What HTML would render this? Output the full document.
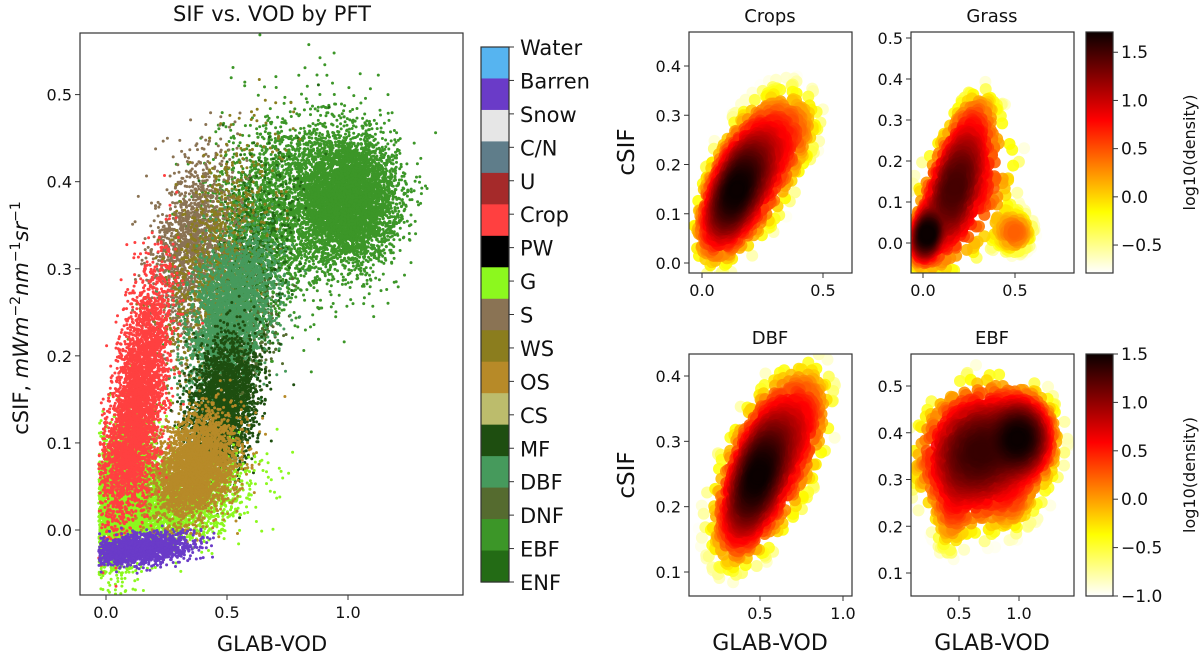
<!DOCTYPE html>
<html><head><meta charset="utf-8"><title>SIF vs VOD by PFT</title>
<style>
html,body{margin:0;padding:0;background:#fff;}
svg{display:block;font-family:"DejaVu Sans","Liberation Sans",sans-serif;}
</style></head>
<body>
<svg id="fig" width="1200" height="656" viewBox="0 0 1200 656" xmlns="http://www.w3.org/2000/svg">
<defs>
<linearGradient id="hotr" x1="0" y1="1" x2="0" y2="0">
<stop offset="0" stop-color="#ffffff"/><stop offset="0.254" stop-color="#ffff00"/>
<stop offset="0.635" stop-color="#ff0000"/><stop offset="1" stop-color="#0b0000"/>
</linearGradient>
<clipPath id="clipMain"><rect x="80" y="33" width="383" height="562"/></clipPath>
</defs>
</svg>
<script>
// ---------- main scatter data ----------
const pftNames=["Water","Barren","Snow","C/N","U","Crop","PW","G","S","WS","OS","CS","MF","DBF","DNF","EBF","ENF"];
const pftColors=["#56b4f0","#6a3bc8","#e6e6e6","#5f7d8a","#a52a2a","#ff4040","#000000","#8cf81e","#8a7354","#8b7d1e","#b78a28","#bcbc6c","#1e4e10","#469a5c","#556b2f","#3c9628","#236b15"];
const clusterPft=["EBF","EBF","ENF","DNF","S","WS","DBF","MF","G","G","OS","Crop","Crop","Barren"];
const clusterX=[1.00,0.70,0.60,0.55,0.36,0.44,0.52,0.48,0.07,0.28,0.37,0.15,0.09,0.13];
const clusterY=[0.38,0.36,0.30,0.20,0.33,0.30,0.25,0.14,0.04,0.03,0.07,0.18,0.09,-0.022];
const clusterSx=[0.10,0.15,0.10,0.08,0.08,0.12,0.09,0.07,0.06,0.15,0.085,0.06,0.06,0.11];
const clusterSy=[0.035,0.06,0.06,0.05,0.05,0.07,0.045,0.04,0.04,0.025,0.03,0.06,0.045,0.009];
const clusterRho=[0.0,0.3,0.5,0.5,0.3,0.6,0.4,0.3,0.3,0.4,0.3,0.5,0.4,0.3];
const clusterN=[5500,2500,600,500,1500,1000,2600,2600,4500,2200,3200,2400,1600,1600];
const mainXTicks=[0.0,0.5,1.0];
const mainXLabels=["0.0","0.5","1.0"];
const mainYTicks=[0.0,0.1,0.2,0.3,0.4,0.5];
const mainYLabels=["0.0","0.1","0.2","0.3","0.4","0.5"];

// ---------- density panels data ----------
const cropsCompX=[0.13,0.20,0.38,0.20], cropsCompY=[0.14,0.18,0.26,0.17], cropsCompSx=[0.06,0.09,0.07,0.12], cropsCompSy=[0.055,0.075,0.05,0.09], cropsCompRho=[0.6,0.6,0.4,0.5], cropsCompW=[1.0,0.5,0.12,0.25];
const grassCompX=[0.02,0.17,0.50,0.28,0.22], grassCompY=[0.02,0.14,0.025,0.30,0.12], grassCompSx=[0.035,0.08,0.06,0.07,0.15], grassCompSy=[0.03,0.085,0.03,0.05,0.1], grassCompRho=[0.3,0.6,0.0,0.3,0.4], grassCompW=[1.0,0.6,0.15,0.08,0.3];
const dbfCompX=[0.47,0.56,0.75,0.55], dbfCompY=[0.24,0.27,0.33,0.26], dbfCompSx=[0.09,0.14,0.09,0.2], dbfCompSy=[0.05,0.065,0.04,0.08], dbfCompRho=[0.6,0.6,0.4,0.5], dbfCompW=[1.0,0.5,0.12,0.25];
const ebfCompX=[1.02,0.65,0.45,0.95,0.75], ebfCompY=[0.39,0.36,0.24,0.25,0.35], ebfCompSx=[0.12,0.22,0.08,0.08,0.3], ebfCompSy=[0.04,0.06,0.06,0.03,0.09], ebfCompRho=[0.0,0.1,0.3,0.0,0.1], ebfCompW=[1.0,0.8,0.12,0.06,0.3];

const NS="http://www.w3.org/2000/svg";
const svg=document.getElementById("fig");
let seed=12345;
function rnd(){seed=(seed*1664525+1013904223)>>>0;return seed/4294967296;}
function gauss(){let u=rnd()||1e-9,v=rnd();return Math.sqrt(-2*Math.log(u))*Math.cos(2*Math.PI*v);}
function el(tag,attrs,parent){const e=document.createElementNS(NS,tag);for(const k in attrs)e.setAttribute(k,attrs[k]);(parent||svg).appendChild(e);return e;}
function txt(s,attrs,parent){const e=el("text",attrs,parent);e.textContent=s;return e;}
function lin(d0,d1,p0,p1){return v=>p0+(v-d0)*(p1-p0)/(d1-d0);}

function axes(name,box,xs,ys,xt,xl,yt,yl,fs){
  const g=el("g",{});
  
  
  const r=el("rect",{x:box.x,y:box.y,width:box.w,height:box.h,fill:"none",stroke:"#333","stroke-width":1.2},g);
  
  
  xt.forEach((t,i)=>{const px=xs(t);
    el("line",{x1:px,x2:px,y1:box.y+box.h,y2:box.y+box.h+5,stroke:"#333","stroke-width":1},g);
    const e=txt(xl[i],{x:px,y:box.y+box.h+23,"font-size":fs,"text-anchor":"middle",fill:"#111"},g);
    
    });
  yt.forEach((t,i)=>{const py=ys(t);
    el("line",{x1:box.x-5,x2:box.x,y1:py,y2:py,stroke:"#333","stroke-width":1},g);
    const e=txt(yl[i],{x:box.x-8,y:py+6,"font-size":fs,"text-anchor":"end",fill:"#111"},g);
    
    });
  return g;
}

// ---------- main scatter ----------
const mbox={x:80,y:33,w:383,h:562};
const mxs=lin(0,0.5,106,227), mys=lin(0,0.5,530,94.6);
const mg=el("g",{"clip-path":"url(#clipMain)"});


clusterPft.forEach((p,ci)=>{
  const col=pftColors[pftNames.indexOf(p)];
  const cg=el("g",{fill:col},mg);
  
  
  for(let i=0;i<clusterN[ci];i++){
    const z1=gauss(),z2=gauss();
    const x=clusterX[ci]+clusterSx[ci]*z1;
    const y=clusterY[ci]+clusterSy[ci]*(clusterRho[ci]*z1+Math.sqrt(1-clusterRho[ci]**2)*z2);
    if(x<-0.03||x>1.42) continue;
    el("circle",{cx:mxs(x).toFixed(1),cy:mys(y).toFixed(1),r:1.5},cg);
  }
});
axes("main",mbox,mxs,mys,mainXTicks,mainXLabels,mainYTicks,mainYLabels,16);
let t=txt("SIF vs. VOD by PFT",{x:272,y:21,"font-size":21,"text-anchor":"middle",fill:"#111"});

t=txt("GLAB-VOD",{x:272,y:651,"font-size":21,"text-anchor":"middle",fill:"#111"});

t=el("text",{transform:"translate(28,318) rotate(-90)","font-size":21,"text-anchor":"middle",fill:"#111"});

t.innerHTML='cSIF, <tspan font-style="italic">mWm</tspan><tspan font-size="14" dy="-8">−2</tspan><tspan font-style="italic" dy="8">nm</tspan><tspan font-size="14" dy="-8">−1</tspan><tspan font-style="italic" dy="8">sr</tspan><tspan font-size="14" dy="-8">−1</tspan>';

// categorical colorbar
const cb={x:481,y:47,w:28,h:535};
const cbg=el("g",{});

pftNames.forEach((n,i)=>{
  const seg=cb.h/pftNames.length;
  const r=el("rect",{x:cb.x,y:(cb.y+i*seg).toFixed(2),width:cb.w,height:(seg+0.6).toFixed(2),fill:pftColors[i]},cbg);
  
  
  const ty=cb.y+i*cb.h/(pftNames.length-1);
  el("line",{x1:cb.x+cb.w,x2:cb.x+cb.w+5,y1:ty,y2:ty,stroke:"#333"},cbg);
  const l=txt(n,{x:520,y:ty+8,"font-size":21,fill:"#111"},cbg);
  
  
});
el("rect",{x:cb.x,y:cb.y,width:cb.w,height:cb.h,fill:"none",stroke:"#333","stroke-width":1.2},cbg);

// ---------- density panels ----------
function hotR(v){v=Math.max(0,Math.min(1,v));const t=1-v;
  const c=x=>Math.round(255*Math.max(0,Math.min(1,x)));
  return "rgb("+c(0.0416+t/0.365)+","+c((t-0.365)/0.381)+","+c((t-0.746)/0.254)+")";}
function densityPanel(name,box,xs,ys,cx,cy,sx,sy,rho,w,n,vmin,vmax){
  const id="clip-"+name;
  const cp=el("clipPath",{id:id},svg.querySelector("defs"));
  el("rect",{x:box.x,y:box.y,width:box.w,height:box.h},cp);
  const g=el("g",{"clip-path":"url(#"+id+")"});
  
  
  const wsum=w.reduce((a,b)=>a+b,0);
  const pts=[];
  function dens(x,y){let d=0;for(let k=0;k<cx.length;k++){
    const u=(x-cx[k])/sx[k],v=(y-cy[k])/sy[k],r=rho[k];
    d+=w[k]*Math.exp(-(u*u-2*r*u*v+v*v)/(2*(1-r*r)));}return d;}
  let dmax=0;
  for(let i=0;i<n;i++){
    let a=rnd()*wsum,k=0;while(a>w[k]&&k<w.length-1){a-=w[k];k++;}
    const z1=gauss(),z2=gauss();
    const x=cx[k]+sx[k]*z1;
    const y=cy[k]+sy[k]*(rho[k]*z1+Math.sqrt(1-rho[k]**2)*z2);
    const d=dens(x,y);if(d>dmax)dmax=d;pts.push([x,y,d]);
  }
  pts.sort((a,b)=>a[2]-b[2]);
  pts.forEach(p=>{
    const val=vmax+1.45*Math.log10(p[2]/dmax);
    el("circle",{cx:xs(p[0]).toFixed(1),cy:ys(p[1]).toFixed(1),r:6,fill:hotR((val-vmin)/(vmax-vmin)),"fill-opacity":0.9},g);
  });
}
function gradBar(name,x,y,w,h,ticks,labels,vmin,vmax){
  const g=el("g",{});
  
  el("rect",{x:x,y:y,width:w,height:h,fill:"url(#hotr)",stroke:"#333","stroke-width":1.2},g);
  const s=lin(vmin,vmax,y+h,y);
  ticks.forEach((tv,i)=>{const py=s(tv);
    el("line",{x1:x+w,x2:x+w+5,y1:py,y2:py,stroke:"#333"},g);
    const l=txt(labels[i],{x:x+w+8,y:py+6,"font-size":17,fill:"#111"},g);
    });
  const l=el("text",{transform:"translate("+(x+w+82)+","+(y+h/2)+") rotate(-90)","font-size":16,"text-anchor":"middle",fill:"#111"},g);
  l.textContent="log10(density)";
  
}
function subTitle(s,x,y,fs,nm){const e=txt(s,{x:x,y:y,"font-size":fs,"text-anchor":"middle",fill:"#111"});
  }

const cropsBox={x:689,y:32,w:163,h:241}, grassBox={x:911,y:32,w:163,h:241};
const dbfBox={x:689,y:354,w:163,h:242}, ebfBox={x:911,y:354,w:163,h:242};
const cxs=lin(0,0.5,702,823), cys=lin(0,0.4,263,66);
const gxs=lin(0,0.5,923,1015), gys=lin(0,0.5,243,38);
const dxs=lin(0.5,1.0,760,843), dys=lin(0.1,0.4,572,376);
const exs=lin(0.5,1.0,959,1019), eys=lin(0.1,0.5,573,386);
densityPanel("crops",cropsBox,cxs,cys,cropsCompX,cropsCompY,cropsCompSx,cropsCompSy,cropsCompRho,cropsCompW,2200,-0.79,1.71);
densityPanel("grass",grassBox,gxs,gys,grassCompX,grassCompY,grassCompSx,grassCompSy,grassCompRho,grassCompW,2200,-0.79,1.71);
densityPanel("dbf",dbfBox,dxs,dys,dbfCompX,dbfCompY,dbfCompSx,dbfCompSy,dbfCompRho,dbfCompW,2200,-1.0,1.5);
densityPanel("ebf",ebfBox,exs,eys,ebfCompX,ebfCompY,ebfCompSx,ebfCompSy,ebfCompRho,ebfCompW,2600,-1.0,1.5);
axes("crops",cropsBox,cxs,cys,[0,0.5],["0.0","0.5"],[0,0.1,0.2,0.3,0.4],["0.0","0.1","0.2","0.3","0.4"],16);
axes("grass",grassBox,gxs,gys,[0,0.5],["0.0","0.5"],[0,0.1,0.2,0.3,0.4,0.5],["0.0","0.1","0.2","0.3","0.4","0.5"],16);
axes("dbf",dbfBox,dxs,dys,[0.5,1.0],["0.5","1.0"],[0.1,0.2,0.3,0.4],["0.1","0.2","0.3","0.4"],16);
axes("ebf",ebfBox,exs,eys,[0.5,1.0],["0.5","1.0"],[0.1,0.2,0.3,0.4,0.5],["0.1","0.2","0.3","0.4","0.5"],16);
gradBar("top-density-colorbar",1086,32,27,241,[-0.5,0,0.5,1.0,1.5],["\u22120.5","0.0","0.5","1.0","1.5"],-0.79,1.71);
gradBar("bottom-density-colorbar",1086,354,27,242,[-1,-0.5,0,0.5,1.0,1.5],["\u22121.0","\u22120.5","0.0","0.5","1.0","1.5"],-1.0,1.5);
subTitle("Crops",770,22,18,"crops-title");
subTitle("Grass",992,22,18,"grass-title");
subTitle("DBF",770,344,18,"dbf-title");
subTitle("EBF",992,344,18,"ebf-title");
subTitle("GLAB-VOD",770,650,22,"dbf-x-axis-title");
subTitle("GLAB-VOD",992,650,22,"ebf-x-axis-title");
let yl=el("text",{transform:"translate(634,152) rotate(-90)","font-size":23,"text-anchor":"middle",fill:"#111"});
yl.textContent="cSIF";

yl=el("text",{transform:"translate(634,475) rotate(-90)","font-size":23,"text-anchor":"middle",fill:"#111"});
yl.textContent="cSIF";

</script>
</body></html>
